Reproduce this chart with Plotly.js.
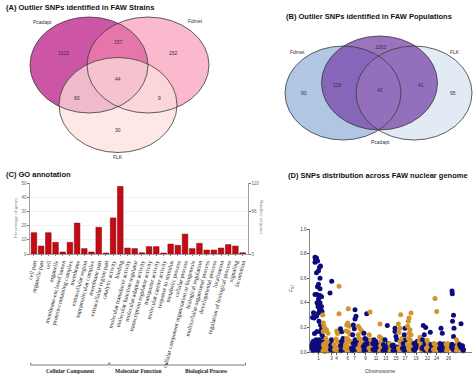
<!DOCTYPE html>
<html><head><meta charset="utf-8">
<script src="https://cdn.plot.ly/plotly-3.0.1.min.js"></script>
<style>html,body{margin:0;padding:0;background:#fff}#chart{width:474px;height:379px}</style>
</head><body><div id="chart"></div>
<script>
// ================= DATA =================
// (A) Venn – outlier SNPs in FAW strains
const vennA_sets   = ["Pcadapt", "Fdmet", "FLK"];
const vennA_region = ["Pcadapt", "Pcadapt&Fdmet", "Fdmet", "all", "Pcadapt&FLK", "Fdmet&FLK", "FLK"];
const vennA_count  = [1022, 157, 152, 44, 83, 9, 30];
// (B) Venn – outlier SNPs in FAW populations
const vennB_sets   = ["Fdmet", "Pcadapt", "FLK"];
const vennB_region = ["Fdmet", "Fdmet&Pcadapt", "Pcadapt", "all", "Pcadapt&FLK", "FLK"];
const vennB_count  = [90, 129, 1263, 40, 41, 95];
// (C) GO annotation
const goTerms = ["cell part","organelle part","cell","organelle","membrane-enclosed lumen",
  "protein-containing complex","membrane","extracellular region","supramolecular complex",
  "membrane part","extracellular region part","catalytic activity","binding",
  "molecular transducer activity","molecular function regulator","molecular adaptor activity",
  "transcription regulator activity","transporter activity","molecular carrier activity",
  "response to stimulus","metabolic process","cellular process",
  "cellular component organization or biogenesis","biological regulation",
  "multicellular organismal process","developmental process","localization",
  "regulation of biological process","signaling","locomotion"];
const goPercent = [15,5.6,15,8.2,1.4,8.2,21.8,3.8,1.4,18.8,0.7,25.4,47.6,4.2,3.8,0.9,5.2,5.2,0.7,
  7,6.1,14,3.8,7.5,2.8,2.8,4.2,6.6,5.6,0.9];
const goGroups    = ["Cellular Component","Molecular Function","Biological Process"];
const goGroupSize = [11, 8, 11];
const geneTicks   = [0, 66, 110];
// (D) Manhattan – [cumulative position, Fst] per chromosome
const chr1 = [[5,0.77],[6.5,0.765],[5.5,0.75],[7.5,0.74],[5,0.73],[10.5,0.70],[9.5,0.69],[8.5,0.66],[6.5,0.645],[10,0.60],[8.5,0.55],[7.5,0.53],[10,0.515],[5,0.467],[7,0.467],[10,0.46],[11.5,0.45],[8.5,0.43],[10,0.40],[7,0.40],[11.5,0.37],[8,0.37],[9.5,0.344],[11,0.34],[8.5,0.317],[12,0.33],[3.5,0.32],[2.5,0.28],[6.5,0.29],[4,0.276],[9,0.25],[10.5,0.22],[11.5,0.19],[7,0.167],[10.5,0.165],[4.5,0.15],[12,0.14],[13,0.12],[9,0.10],[3,0.085],[6,0.10],[13.5,0.08],[4,0.06],[6,0.05],[9,0.07],[2,0.03],[3,0.01],[5,0.02],[7,0.03],[8,0.01],[10,0.04],[11,0.02],[12,0.05],[13,0.03],[14,0.01],[1.5,0.05],[4.5,0.09],[7.5,0.08],[10.5,0.06],[12.5,0.06],[2.5,0.07],[8.5,0.045],[11.5,0.08]];
const chr2 = [[12.7,0.30],[13.3,0.235],[14,0.21],[15,0.19],[16.5,0.18],[13.3,0.167],[18,0.153],[16,0.11],[17.3,0.085],[15,0.07],[19.3,0.063],[14,0.04],[16,0.02],[18,0.03],[19,0.01],[13,0.01],[15,0.005],[17,0.045],[13.5,0.06]];
const chr3 = [[21.7,0.575],[20,0.48],[21.5,0.10],[20.7,0.055],[22.5,0.03],[23,0.01],[20.5,0.02],[22,0.07]];
const chr4 = [[29,0.535],[29,0.31],[26.7,0.17],[27.5,0.15],[26,0.105],[27.5,0.085],[29.5,0.07],[24.5,0.02],[25.5,0.04],[27,0.01],[28,0.03],[30,0.05],[24,0.06]];
const chr5 = [[30.5,0.19],[31.7,0.165],[33,0.11],[31.5,0.085],[34,0.07],[30.5,0.05],[32,0.03],[33.5,0.02],[31,0.01],[34.5,0.04]];
const chr6 = [[38.3,0.352],[37.7,0.235],[36.7,0.22],[39.3,0.21],[36,0.17],[38.3,0.165],[40,0.145],[36.7,0.11],[38.3,0.10],[40,0.085],[36,0.07],[41,0.08],[35,0.03],[37,0.02],[39,0.04],[40.5,0.01],[35.5,0.055],[38,0.01]];
const chr7 = [[45,0.344],[46,0.29],[45,0.268],[43.3,0.22],[44.3,0.19],[42.7,0.14],[45,0.10],[43.3,0.07],[47,0.08],[41.5,0.03],[42.5,0.01],[44,0.04],[46,0.02],[47.5,0.05]];
const chr8 = [[48.3,0.21],[50,0.19],[51.7,0.17],[53.3,0.153],[48.3,0.14],[49.3,0.11],[51.7,0.10],[52.7,0.08],[50,0.063],[48,0.03],[49.5,0.01],[51,0.04],[52.5,0.02]];
const chr9 = [[56.7,0.31],[54,0.153],[55,0.11],[56.7,0.10],[58.3,0.08],[55,0.063],[53.3,0.045],[54,0.01],[56,0.03],[57.5,0.02],[58,0.05]];
const chr10 = [[60,0.325],[59.3,0.14],[60.7,0.10],[61.7,0.07],[59,0.03],[60.5,0.01],[61.5,0.04]];
const chr11 = [[64,0.10],[62.7,0.07],[66,0.085],[65,0.05],[67,0.06],[68.5,0.04],[63,0.02],[64.5,0.01],[66.5,0.03],[68,0.01],[69,0.05]];
const chr12 = [[70,0.227],[69.5,0.125],[71.7,0.11],[71,0.085],[70.5,0.05],[72,0.03],[69.8,0.01],[71.5,0.02]];
const chr13 = [[77.3,0.216],[75,0.10],[78.3,0.07],[73.5,0.06],[74.5,0.03],[76,0.01],[77,0.04],[78.5,0.02],[73,0.01]];
const chr14 = [[79.5,0.07],[80.5,0.05],[81,0.03],[80,0.01],[81.5,0.02]];
const chr15 = [[85,0.194],[85,0.167],[86,0.126],[86.7,0.10],[83.3,0.057],[82,0.05],[84,0.03],[85.5,0.01],[87,0.04],[88,0.02],[83,0.01]];
const chr16 = [[90.7,0.303],[88.3,0.227],[90,0.194],[89,0.158],[91.7,0.11],[90,0.085],[91,0.063],[88.5,0.03],[89.5,0.01],[91.5,0.04],[90.5,0.02]];
const chr17 = [[95,0.194],[94.3,0.14],[95.7,0.10],[93.3,0.07],[92.5,0.03],[94,0.01],[96,0.04],[96.5,0.02]];
const chr18 = [[101,0.317],[99,0.276],[98.3,0.25],[97.7,0.21],[100,0.18],[99,0.153],[101,0.14],[98.3,0.11],[100,0.10],[101.7,0.08],[97.5,0.06],[98.5,0.03],[99.5,0.01],[102,0.04],[103,0.02],[100.5,0.05]];
const chr19 = [[104,0.07],[105.5,0.05],[107,0.085],[106,0.03],[104.5,0.01],[108,0.04],[103.5,0.02],[108.5,0.06]];
const chr20 = [[110,0.12],[109.5,0.085],[111,0.06],[110.5,0.03],[111.5,0.01]];
const chr21 = [[113.3,0.216],[115.7,0.20],[114.3,0.14],[112.5,0.10],[115,0.07],[113,0.04],[114,0.02],[115.5,0.01],[112,0.03]];
const chr22 = [[117,0.095],[118,0.075],[119,0.05],[116.5,0.03],[118.5,0.01],[119.5,0.04],[117.5,0.02]];
const chr23 = [[120.3,0.16],[121,0.06],[122,0.04],[121.5,0.02],[120.5,0.01],[122.5,0.05]];
const chr24 = [[125,0.434],[126.7,0.33],[124,0.07],[125.5,0.05],[127,0.06],[128,0.03],[123.5,0.02],[126,0.01],[128.5,0.04]];
const chr25 = [[131,0.194],[132.3,0.153],[130,0.07],[131.5,0.06],[133,0.05],[134,0.065],[129.5,0.03],[130.5,0.01],[132,0.02],[133.5,0.04],[134.5,0.01]];
const chr26 = [[136,0.065],[137,0.04],[138,0.07],[139,0.03],[136.5,0.01],[138.5,0.02],[139.5,0.05]];
const chr27 = [[142,0.495],[142.3,0.473],[143.5,0.298],[142.5,0.25],[144,0.194],[143.5,0.126],[142,0.063],[141.5,0.04],[143,0.02],[144.5,0.03],[145,0.01],[145.5,0.05]];
const chr28 = [[146.5,0.10],[147.5,0.08],[148,0.065],[147,0.04],[148.5,0.02],[146.3,0.01]];
const chr29 = [[151,0.23],[149.5,0.06],[150.5,0.04],[152,0.03],[153,0.01],[153.5,0.02],[152.5,0.05]];
const chromosomes = [chr1,chr2,chr3,chr4,chr5,chr6,chr7,chr8,chr9,chr10,chr11,chr12,chr13,chr14,chr15,
  chr16,chr17,chr18,chr19,chr20,chr21,chr22,chr23,chr24,chr25,chr26,chr27,chr28,chr29];
const chrBounds = [1,16,20,23,30,34.5,41,48,53,58,62,70,72.5,79,82,90,92,98,103,109,112,116,119,123,130,135,142,146,149,154];
const chrTickLabels = [1,3,4,6,7,9,11,13,15,17,19,22,24,26];

// ================= STYLE / GEOMETRY (page pixels) =================
const SANS = 'Liberation Sans, Arial, sans-serif';
const SERIF = 'Liberation Serif, Times New Roman, serif';
const W = 474, H = 379;
const vennA_ell = [[89,65,59,48],[148,65,61,48],[118,105,59,47.5]];
const vennA_fill = ['rgb(205,85,165)','rgba(247,138,172,0.6)','rgba(252,223,220,0.73)'];
const vennA_setPos = [[42,22],[195,21],[118,157]];
const vennA_cntPos = [[63,53],[118,42],[173,53],[118,79],[77,98],[159,98],[118,130]];
const vennB_ell = [[343,93,58,47],[379.5,83,58,47],[414,93,58,47]];
const vennB_fill = ['rgb(176,198,226)','rgba(120,70,170,0.75)','rgb(226,235,243)'];
const vennB_drawOrder = [0,2,1];
const vennB_setPos = [[297,52],[380,142],[455,52]];
const vennB_cntPos = [[304,93],[337,85],[380,47],[380,90],[421,85],[453,93]];

const shapes = [], annotations = [];
function ell(c, fill, lw, lc){
  return {type:'circle', xref:'x', yref:'y', x0:c[0]-c[2], x1:c[0]+c[2], y0:c[1]-c[3], y1:c[1]+c[3],
    fillcolor:fill, line:{width:lw, color:lc||'rgba(0,0,0,0)'}, layer:'above'};
}
function txt(x, y, text, size, o){
  annotations.push(Object.assign({xref:'x', yref:'y', x:x, y:y, text:text, showarrow:false,
    font:{family:SANS, size:size, color:'#333'}, xanchor:'center', yanchor:'middle', borderpad:0}, o||{}));
}
// Venn A
vennA_ell.forEach((c,i)=>shapes.push(ell(c, vennA_fill[i], 0)));
vennA_ell.forEach(c=>shapes.push(ell(c, 'rgba(0,0,0,0)', 0.8, '#3a3a3a')));
vennA_sets.forEach((s,i)=>txt(vennA_setPos[i][0], vennA_setPos[i][1], s, 5));
vennA_count.forEach((v,i)=>txt(vennA_cntPos[i][0], vennA_cntPos[i][1], String(v), 5));
// Venn B
vennB_drawOrder.forEach(i=>shapes.push(ell(vennB_ell[i], vennB_fill[i], 0)));
vennB_ell.forEach(c=>shapes.push(ell(c, 'rgba(0,0,0,0)', 0.8, '#3a3a3a')));
vennB_sets.forEach((s,i)=>txt(vennB_setPos[i][0], vennB_setPos[i][1], s, 5));
vennB_count.forEach((v,i)=>txt(vennB_cntPos[i][0], vennB_cntPos[i][1], String(v), 5));

// Panel titles
const tfont = {family:SANS, size:7.5, color:'#111'};
txt(5, 7, '<b>(A) Outlier SNPs identified in FAW Strains</b>', 7.5, {xanchor:'left', font:tfont});
txt(285, 16, '<b>(B) Outlier SNPs identified in FAW Populations</b>', 7.5, {xanchor:'left', font:tfont});
txt(5, 174, '<b>(C) GO annotation</b>', 7.5, {xanchor:'left', font:tfont});
txt(287, 175, '<b>(D) SNPs distribution across FAW nuclear genome</b>', 7.5, {xanchor:'left', font:tfont});

// GO axis titles and group brackets
txt(15, 218, 'Percentage of genes', 5, {textangle:-90, font:{family:SERIF, size:5, color:'#777'}});
txt(262, 217, 'Number of genes', 5, {textangle:90, font:{family:SERIF, size:5, color:'#777'}});
let start = 0;
goGroups.forEach((g,k)=>{
  const a = start - 0.45, b = start + goGroupSize[k] - 1 + 0.4;
  shapes.push({type:'path', xref:'x2', yref:'y', layer:'above',
    path:`M ${a},362.5 L ${a},365 L ${b},365 L ${b},362.5`, line:{width:0.7, color:'#444'}});
  annotations.push({xref:'x2', yref:'y', x:(a+b)/2, y:371, text:'<b>'+g+'</b>', showarrow:false,
    font:{family:SERIF, size:5.5, color:'#222'}, xanchor:'center', yanchor:'middle', borderpad:0});
  start += goGroupSize[k];
});
// Manhattan axis titles
txt(380, 371, 'Chromosome', 5);
txt(291, 288, 'F<sub>ST</sub>', 5, {textangle:-90});

// Manhattan points (plotted chromosome by chromosome)
const mx = [], my = [], mc = [];
chromosomes.forEach((pts, i)=>{
  pts.forEach(p=>{ mx.push(p[0]); my.push(p[1]); mc.push(i % 2 === 0 ? '#0c0c7c' : '#d3952b'); });
});
const tickPos = chrTickLabels.map(c => (chrBounds[c-1] + chrBounds[c]) / 2);

const traces = [
  {type:'bar', x:goTerms, y:goPercent, xaxis:'x2', yaxis:'y2',
    marker:{color:'#c40a12', line:{color:'#7d0008', width:0.5}}, hoverinfo:'skip', showlegend:false},
  {type:'scatter', mode:'markers', x:[goTerms[0]], y:[0], xaxis:'x2', yaxis:'y3', marker:{opacity:0}, hoverinfo:'skip', showlegend:false},
  {type:'scatter', mode:'markers', x:mx, y:my, xaxis:'x3', yaxis:'y4', cliponaxis:false,
    marker:{size:5, color:mc, line:{width:0}}, hoverinfo:'skip', showlegend:false}
];

const axisFont = {family:SANS, size:4.5, color:'#666'};
const layout = {
  width:W, height:H, margin:{l:0,r:0,t:0,b:0}, autosize:false,
  paper_bgcolor:'#fff', plot_bgcolor:'rgba(0,0,0,0)', showlegend:false, bargap:0.22,
  xaxis:{domain:[0,1], range:[0,W], visible:false, fixedrange:true},
  yaxis:{domain:[0,1], range:[H,0], visible:false, fixedrange:true},
  xaxis2:{domain:[30/W, 248/W], anchor:'y2', type:'category', range:[-0.55,29.75],
    tickmode:'array', tickvals:goTerms, ticktext:goTerms, tickangle:-75,
    tickfont:{family:SERIF, size:6, color:'#222'}, showline:true, linecolor:'#777', linewidth:0.7,
    ticks:'outside', ticklen:1.5, tickcolor:'#777', showgrid:false, zeroline:false},
  yaxis2:{domain:[1-254/H, 1-183/H], anchor:'x2', range:[0,50], dtick:10, showline:true,
    linecolor:'#777', linewidth:0.7, ticks:'outside', ticklen:2, tickcolor:'#777', tickfont:axisFont,
    showgrid:true, gridcolor:'#e4e4e4', gridwidth:0.5, zeroline:false},
  yaxis3:{overlaying:'y2', side:'right', anchor:'x2', range:[0,110], tickmode:'array', tickvals:geneTicks,
    ticktext:geneTicks.map(String), showline:true, linecolor:'#777', linewidth:0.7, ticks:'outside',
    ticklen:2, tickcolor:'#777', tickfont:axisFont, showgrid:false, zeroline:false},
  xaxis3:{domain:[310/W, 472/W], anchor:'y4', range:[0,162], tickmode:'array', tickvals:tickPos,
    ticktext:chrTickLabels.map(String), tickangle:0, showline:true, linecolor:'#555', linewidth:0.7, ticks:'outside',
    ticklen:2, tickcolor:'#555', tickfont:{family:SANS, size:4.5, color:'#333'}, showgrid:false, zeroline:false},
  yaxis4:{domain:[1-352/H, 1-229/H], anchor:'x3', range:[0,1], dtick:0.2, tickformat:'.1f',
    showline:true, linecolor:'#555', linewidth:0.7, ticks:'outside', ticklen:2, tickcolor:'#555',
    tickfont:{family:SANS, size:4.5, color:'#333'}, showgrid:false, zeroline:false},
  shapes:shapes, annotations:annotations, hovermode:false, dragmode:false
};
Plotly.newPlot('chart', traces, layout, {staticPlot:true, displayModeBar:false});
</script>
</body></html>
